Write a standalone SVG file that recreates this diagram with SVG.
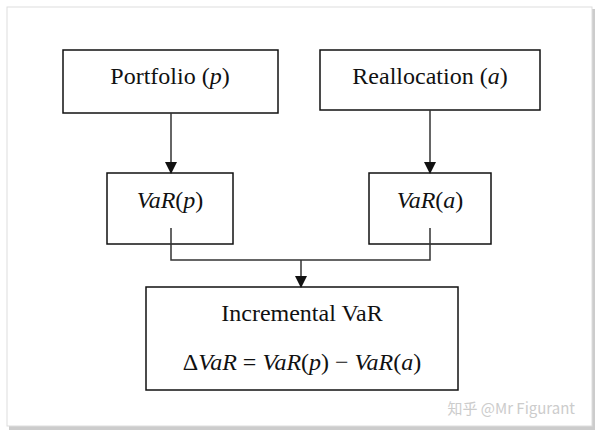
<svg xmlns="http://www.w3.org/2000/svg" width="600" height="437" viewBox="0 0 600 437">
<style>
.box{fill:#fff;stroke:#111;stroke-width:1.5}
.t{font-family:"Liberation Serif",serif;font-size:24px;fill:#111;text-anchor:middle}
.c{stroke:#333;stroke-width:1.5;fill:none}
</style>
<defs><marker id="a" markerWidth="12" markerHeight="12" refX="11" refY="6" orient="auto" markerUnits="userSpaceOnUse"><path d="M0,0L12,6L0,12z" fill="#111"/></marker></defs>
<rect width="600" height="437" fill="#fff"/>
<rect x="9" y="9" width="586" height="421" fill="#ccc"/>
<rect x="7" y="7" width="585" height="419" fill="#fff" stroke="#ddd"/>
<g id="portfolio"><rect class="box" x="63" y="50" width="215" height="63"/><text class="t" x="170" y="84">Portfolio (<tspan font-style="italic">p</tspan>)</text></g>
<g id="reallocation"><rect class="box" x="320" y="50" width="220" height="60"/><text class="t" x="430" y="84">Reallocation (<tspan font-style="italic">a</tspan>)</text></g>
<g id="varp"><rect class="box" x="107" y="173" width="126" height="71"/><text class="t" x="170" y="208"><tspan font-style="italic">VaR</tspan>(<tspan font-style="italic">p</tspan>)</text></g>
<g id="vara"><rect class="box" x="369" y="173" width="122" height="71"/><text class="t" x="430" y="208"><tspan font-style="italic">VaR</tspan>(<tspan font-style="italic">a</tspan>)</text></g>
<g id="incremental"><rect class="box" x="146" y="287" width="312" height="103"/><text class="t" x="302" y="321">Incremental VaR</text><text class="t" x="302" y="370">Δ<tspan font-style="italic">VaR</tspan> = <tspan font-style="italic">VaR</tspan>(<tspan font-style="italic">p</tspan>) − <tspan font-style="italic">VaR</tspan>(<tspan font-style="italic">a</tspan>)</text></g>
<g id="connectors">
<path class="c" d="M171,113V173" marker-end="url(#a)"/>
<path class="c" d="M430,110V173" marker-end="url(#a)"/>
<path class="c" d="M171,228V260H430V228"/>
<path class="c" d="M301,260V287" marker-end="url(#a)"/>
</g>
<text x="575" y="414" font-family="Noto Sans CJK SC,sans-serif" font-size="15" fill="#ccc" text-anchor="end">知乎 @Mr Figurant</text>
</svg>
